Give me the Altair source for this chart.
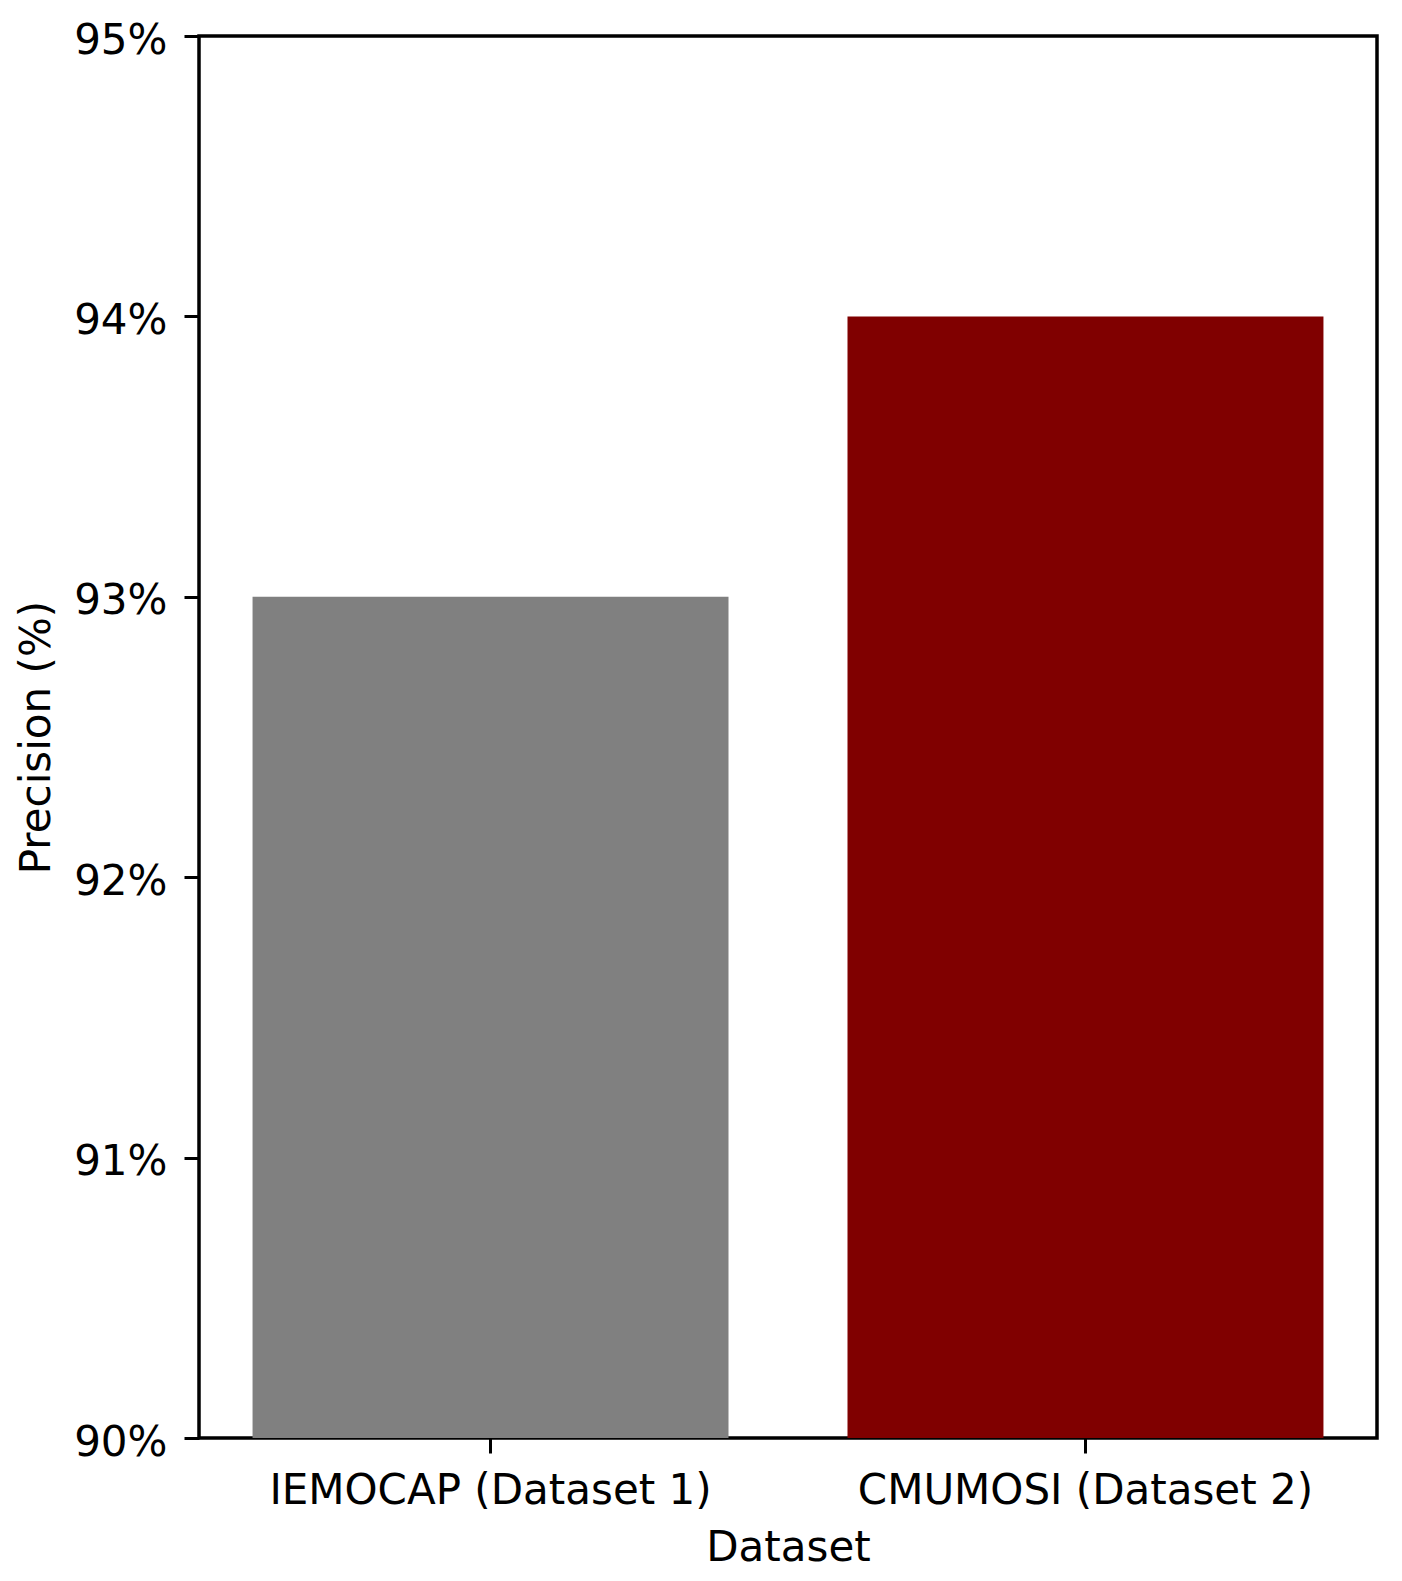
import altair as alt
import pandas as pd

datasets = ["IEMOCAP (Dataset 1)", "CMUMOSI (Dataset 2)"]
precision = [93, 94]
bar_colors = ["#808080", "#800000"]
y_ticks = [90, 91, 92, 93, 94, 95]

df = pd.DataFrame({"Dataset": datasets, "Precision": precision})

FONT = "DejaVu Sans"
FS = 42

chart = alt.Chart(df).mark_bar().encode(
    x=alt.X(
        "Dataset:N",
        sort=datasets,
        scale=alt.Scale(paddingInner=0.2, paddingOuter=0.09),
        axis=alt.Axis(
            title="Dataset",
            labelAngle=0,
            labelLimit=0,
            labelFont=FONT,
            labelFontSize=FS,
            labelColor="black",
            labelPadding=17,
            tickSize=15,
            tickWidth=3,
            tickColor="black",
            domain=False,
            titleFont=FONT,
            titleFontSize=FS,
            titleFontWeight="normal",
            titleColor="black",
            titleBaseline="alphabetic",
            titleY=122,
        ),
    ),
    y=alt.Y(
        "Precision:Q",
        scale=alt.Scale(domain=[90, 95], zero=False, nice=False),
        axis=alt.Axis(
            title="Precision (%)",
            values=y_ticks,
            labelExpr="datum.value + '%'",
            grid=False,
            labelLimit=0,
            labelFont=FONT,
            labelFontSize=FS,
            labelColor="black",
            labelPadding=17,
            labelOffset=4,
            tickSize=15,
            tickWidth=3,
            tickColor="black",
            domain=False,
            titleFont=FONT,
            titleFontSize=FS,
            titleFontWeight="normal",
            titleColor="black",
            titleBaseline="alphabetic",
            titleAlign="center",
            titleX=-150,
            titleY=701,
        ),
    ),
    y2=alt.datum(90),
    color=alt.Color(
        "Dataset:N",
        scale=alt.Scale(domain=datasets, range=bar_colors),
        legend=None,
    ),
).properties(
    width=1178,
    height=1402,
    autosize=alt.AutoSizeParams(type="none"),
    padding={"left": 191, "top": 28, "right": 17, "bottom": 135},
).configure(
    background="white",
    view=alt.ViewConfig(stroke="black", strokeWidth=3.5, strokeOpacity=1),
)

chart.save("out.html", embed_options={"renderer": "svg", "actions": False})
